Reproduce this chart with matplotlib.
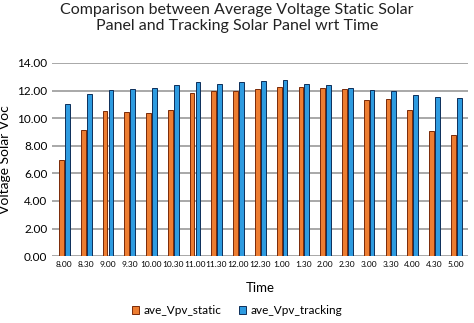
import numpy as np
import matplotlib.pyplot as plt

times = ['8.00', '8.30', '9.00', '9.30', '10.00', '10.30', '11.00', '11.30', '12.00', '12.30',
         '1.00', '1.30', '2.00', '2.30', '3.00', '3.30', '4.00', '4.30', '5.00']
static = [6.96, 9.14, 10.50, 10.44, 10.37, 10.59, 11.80, 11.96, 12.00, 12.10,
          12.25, 12.25, 12.20, 12.10, 11.30, 11.40, 10.60, 9.06, 8.77]
tracking = [11.00, 11.75, 12.04, 12.10, 12.18, 12.40, 12.60, 12.47, 12.60, 12.69,
            12.76, 12.47, 12.40, 12.18, 12.04, 11.96, 11.67, 11.53, 11.46]
yticks = np.arange(0, 16, 2)

plt.rcParams['font.family'] = ['Lato', 'DejaVu Sans']

fig = plt.figure(figsize=(4.74, 3.23), dpi=100)
ax = fig.add_axes([0.11, 0.207, 0.877, 0.598])

x = np.arange(len(times))
w = 0.22
ax.bar(x - 0.12, static, w, color='#ED7D31', edgecolor='#7a2a08', linewidth=0.7,
       label='ave_Vpv_static', zorder=3)
ax.bar(x + 0.15, tracking, w, color='#2E9BE0', edgecolor='#0d2f5a', linewidth=0.7,
       label='ave_Vpv_tracking', zorder=3)

ax.set_ylim(0, 14)
ax.set_xlim(-0.55, len(times) - 0.45)
ax.set_yticks(yticks)
ax.set_yticklabels(['%.2f' % v for v in yticks], fontsize=8.5)
ax.set_xticks(x)
ax.set_xticklabels(times, fontsize=6)
ax.tick_params(length=0)
ax.yaxis.grid(True, color='#999999', linewidth=1.2, zorder=0)
for s in ax.spines.values():
    s.set_visible(False)

ax.set_ylabel('Voltage Solar Voc', fontsize=10)
ax.yaxis.set_label_coords(-0.098, 0.5)
ax.set_xlabel('Time', fontsize=9.5, labelpad=10)
fig.suptitle('Comparison between Average Voltage Static Solar\nPanel and Tracking Solar Panel wrt Time',
             fontsize=11.5, y=0.99, color='#222222')
fig.legend(loc='lower center', bbox_to_anchor=(0.5, -0.012), ncol=2, frameon=False,
           fontsize=8.5, handlelength=0.6, handleheight=0.6, columnspacing=1.5, handletextpad=0.4)

fig.savefig('out.png', dpi=100)
